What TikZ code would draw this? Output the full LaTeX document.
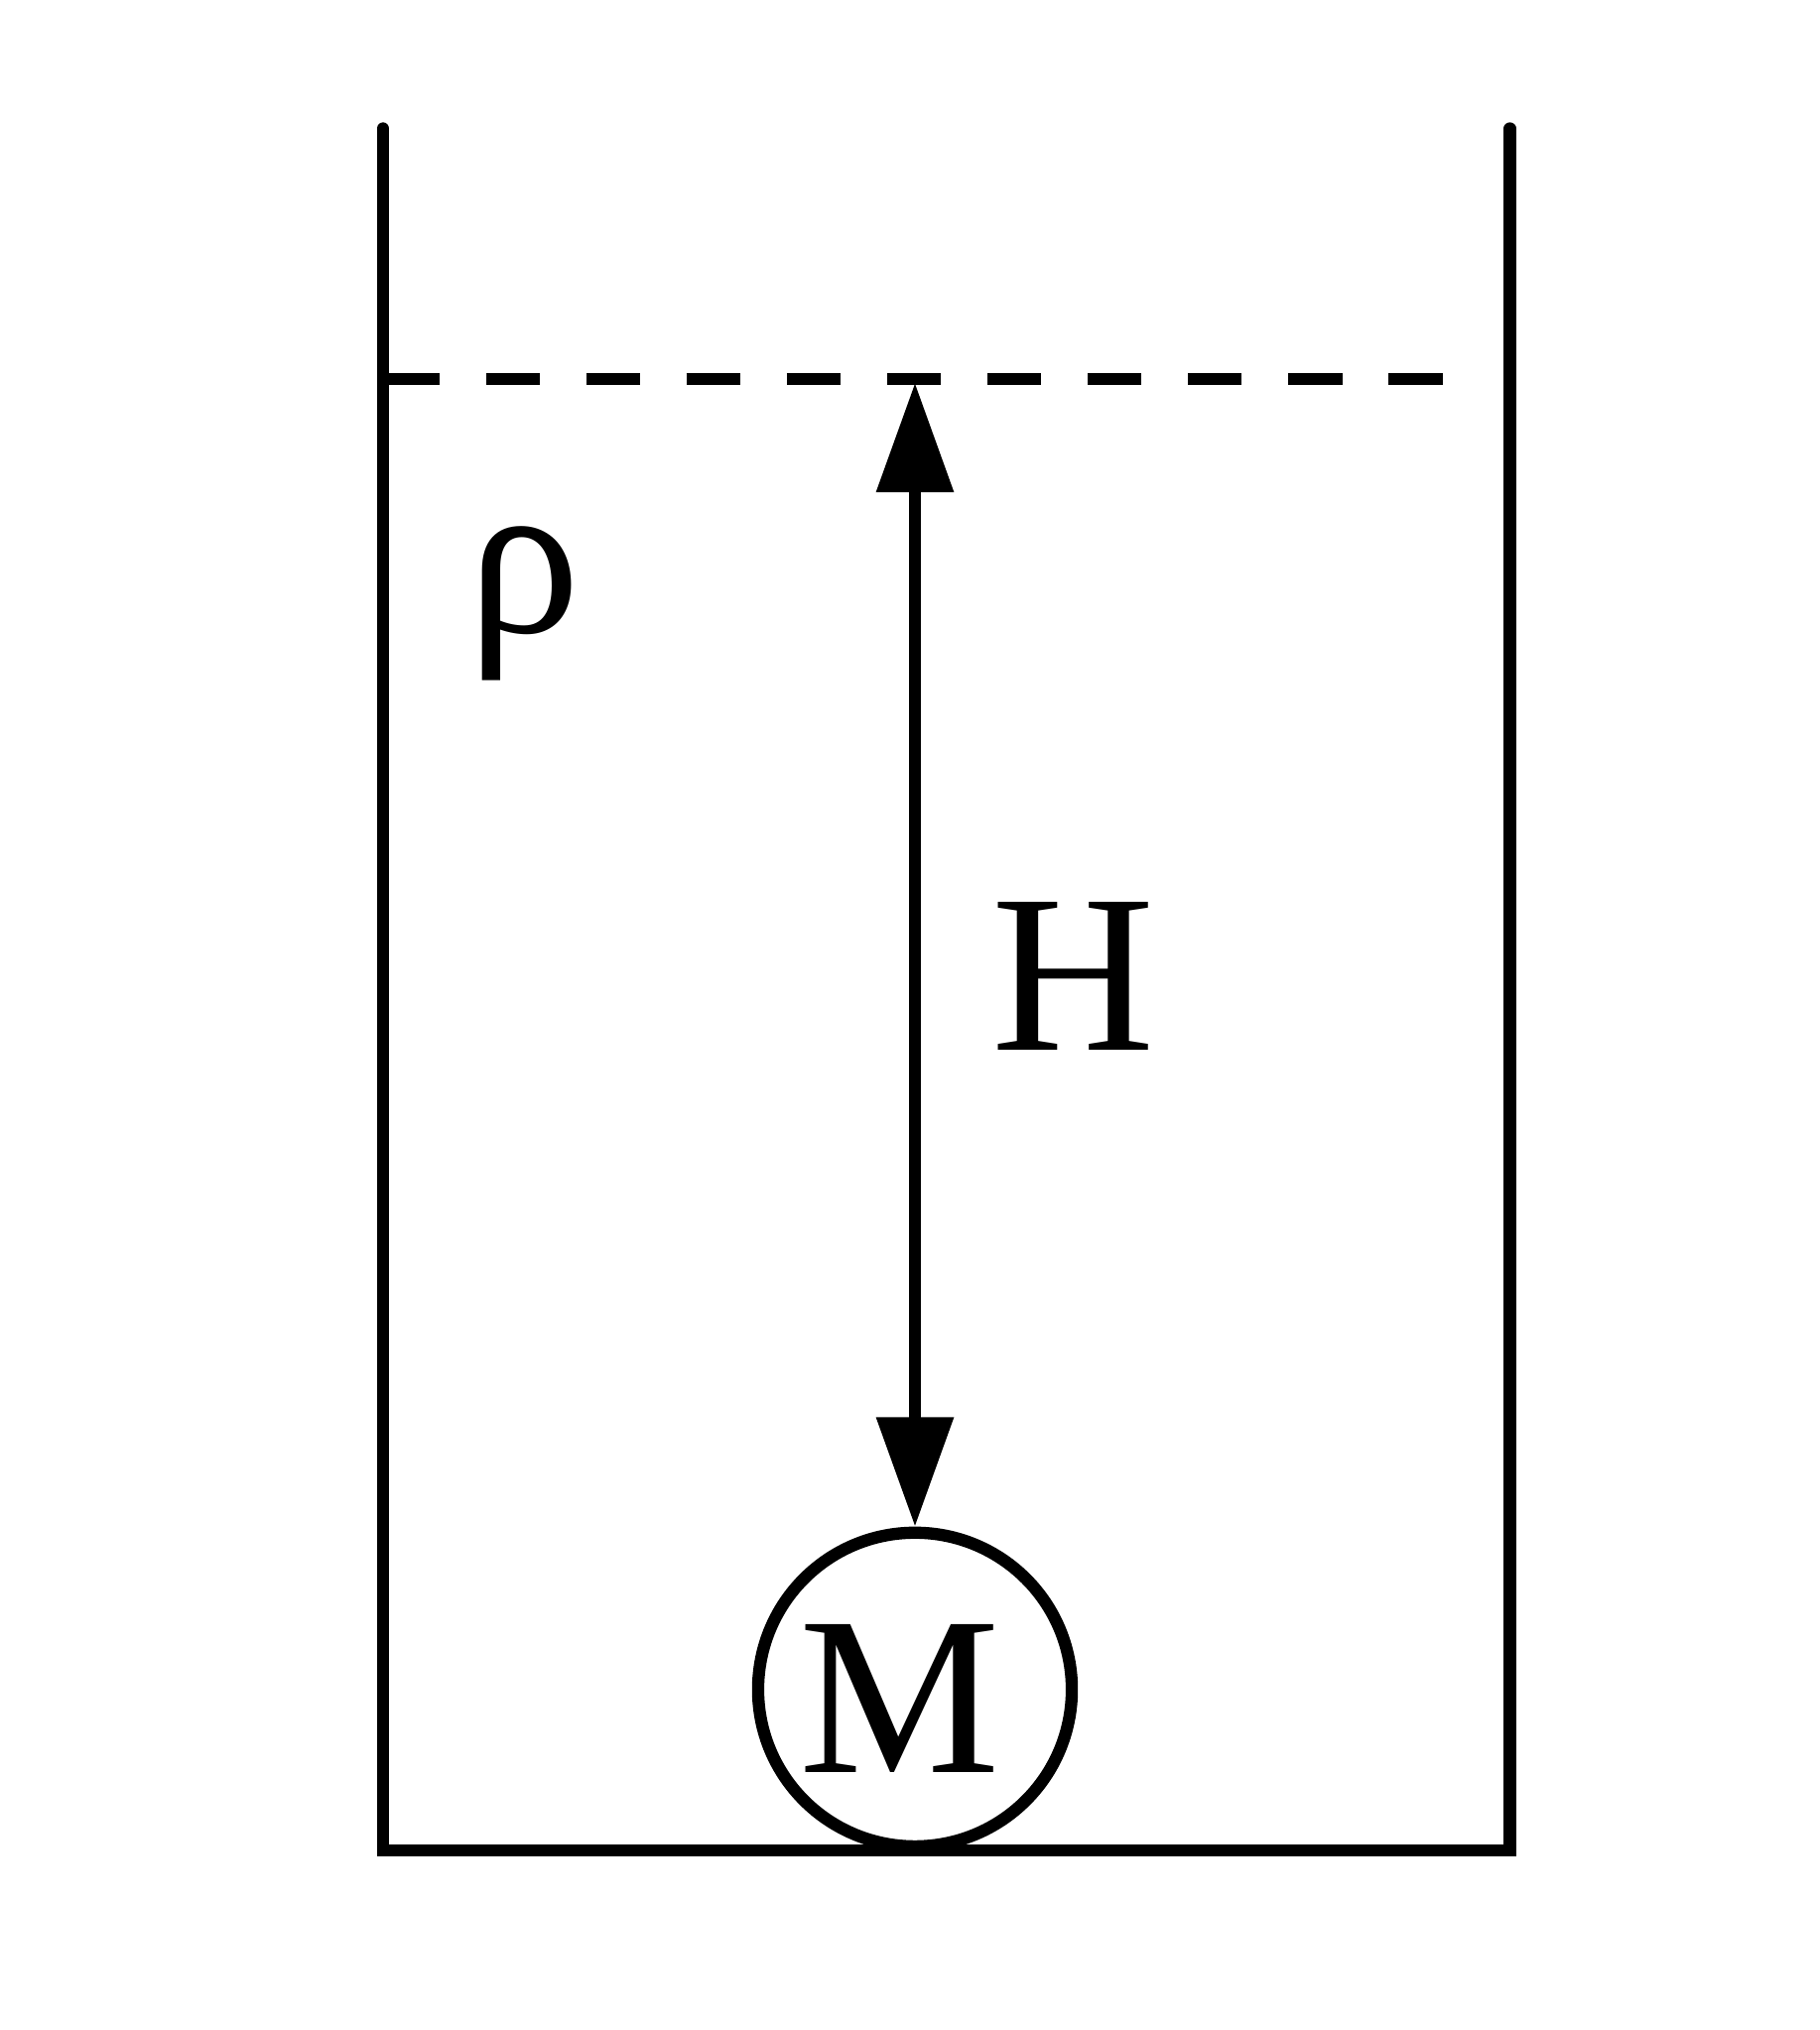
\documentclass[tikz,border=0pt]{standalone}
\usepackage{fontspec}
\setmainfont{Liberation Serif}
\usetikzlibrary{arrows.meta}
\begin{document}
\begin{tikzpicture}[x=0.01cm,y=-0.01cm,line width=0.095cm,
  wall/.style={line cap=round},
  tip/.tip={Triangle[length=0.85cm,width=0.58cm]},
  lbl/.style={font=\fontsize{50}{56}\selectfont}]
\useasboundingbox (0,0) rectangle (1416,1580);
\draw[wall] (298,100) -- (298,1440) -- (1175,1440) -- (1175,100);
\draw[dash pattern=on 0.42cm off 0.36cm] (300,295) -- (1135,295);
\coordinate (top) at (712,298);
\node[circle,draw,minimum size=2.44cm,inner sep=0pt,lbl] (m) at (712,1315) {};
\node[lbl] (mm) at (700,1322) {M};
\draw[tip-tip] (top) -- (m.north);
\node[lbl] (h) at (835,760) {H};
\node[lbl] (rho) at (408,470) {ρ};
\end{tikzpicture}
\end{document}
